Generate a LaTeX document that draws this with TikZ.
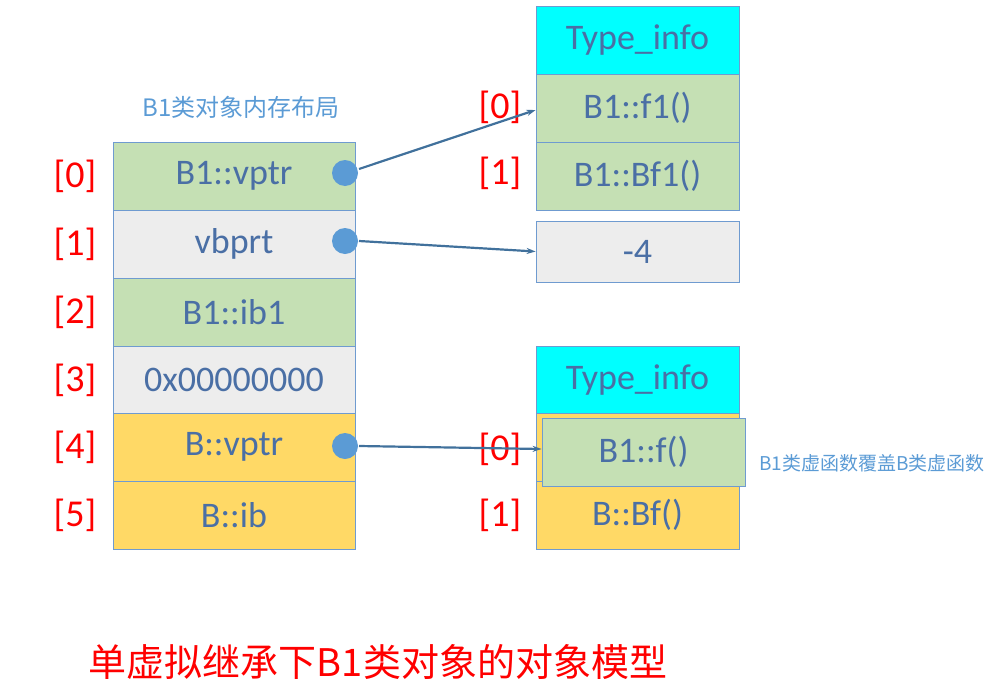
\documentclass[tikz,border=0pt]{standalone}
\usepackage{fontspec}
\usetikzlibrary{arrows.meta}
\setmainfont{Carlito}
\newfontfamily\cjk{Noto Sans CJK SC}
\definecolor{cg}{HTML}{C5E0B4}
\definecolor{cgr}{HTML}{EDEDED}
\definecolor{cy}{HTML}{FFD966}
\definecolor{cc}{HTML}{00FFFF}
\definecolor{bd}{HTML}{6F9BD0}
\definecolor{tx}{HTML}{4A6FA5}
\definecolor{dot}{HTML}{5B9BD5}
\definecolor{ln}{HTML}{41719C}
\begin{document}
\begin{tikzpicture}[x=1pt,y=-1pt,
 cell/.style={draw=bd,line width=0.8pt,minimum width=242pt,minimum height=68pt,inner sep=0pt,text=tx,font=\fontsize{36}{36}\selectfont},
 rcell/.style={cell,minimum width=203pt},
 idx/.style={text=red,font=\fontsize{38}{38}\selectfont},
 dt/.style={circle,fill=dot,minimum size=26pt,inner sep=0pt},
 arr/.style={draw=ln,line width=2.2pt,-{Stealth[length=9pt,width=6pt]}}]
\useasboundingbox (0,0) rectangle (1003,696);
\node[cell,fill=cg] (l0) at (234,176) {B1::vptr};
\node[cell,fill=cgr] (l1) at (234,244) {vbprt};
\node[cell,fill=cg] (l2) at (234,312) {B1::ib1};
\node[cell,fill=cgr] (l3) at (234,380) {0x00000000};
\node[cell,fill=cy] (l4) at (234,447) {B::vptr};
\node[cell,fill=cy] (l5) at (234,515) {B::ib};
\foreach \i/\y in {0/176,1/244,2/312,3/380,4/447,5/515}
  \node[idx] (li\i) at (75,\y) {[\i]};
\node[text=dot,font=\cjk\fontsize{24}{24}\selectfont] (title) at (241,107) {B1类对象内存布局};
\node[rcell,fill=cc] (t1) at (637.5,40) {Type\_info};
\node[rcell,fill=cg] (f1) at (637.5,108) {B1::f1()};
\node[rcell,fill=cg] (bf1) at (637.5,176) {B1::Bf1()};
\node[rcell,fill=cgr,minimum height=61pt] (m4) at (637.5,251.5) {-4};
\node[rcell,fill=cc] (t2) at (637.5,380) {Type\_info};
\node[rcell,fill=cy] (by) at (637.5,447) {};
\node[rcell,fill=cy] (bbf) at (637.5,515) {B::Bf()};
\node[rcell,fill=cg] (b1f) at (643.5,452) {B1::f()};
\node[idx] (r0) at (500,107) {[0]};
\node[idx] (r1) at (500,173) {[1]};
\node[idx] (r2) at (500,449) {[0]};
\node[idx] (r3) at (500,515) {[1]};
\node[text=dot,font=\cjk\fontsize{19}{19}\selectfont] (note) at (872,463) {B1类虚函数覆盖B类虚函数};
\node[text=red,font=\cjk\fontsize{38}{38}\selectfont] (cap) at (378,662) {单虚拟继承下B1类对象的对象模型};
\node[dt] (d0) at (345,173) {};
\node[dt] (d1) at (345,241) {};
\node[dt] (d4) at (345,446) {};
\draw[arr] (d0.center) ++(14,-4) -- (f1.west|-0,110);
\draw[arr] (d1.center) ++(14,0) -- (m4.west);
\draw[arr] (d4.center) ++(14,0) -- (b1f.west|-0,449);
\end{tikzpicture}
\end{document}
